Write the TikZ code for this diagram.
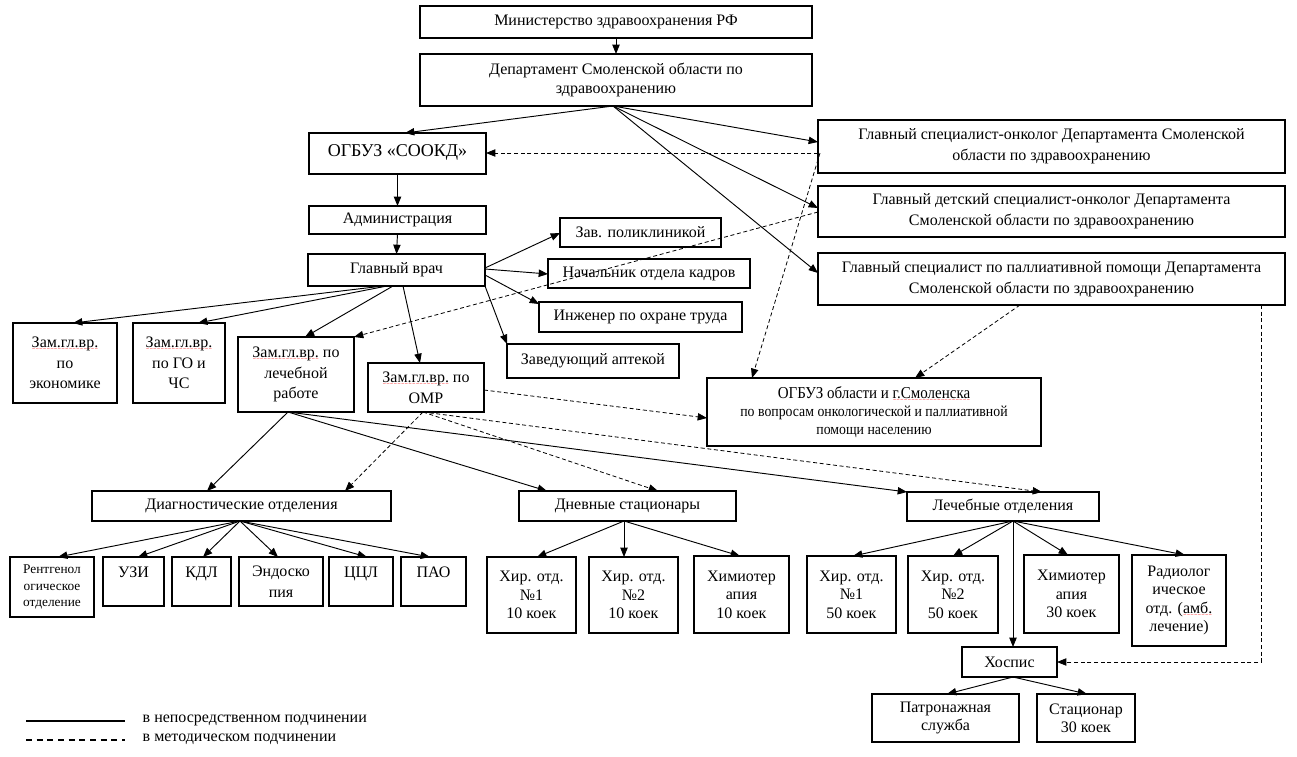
\documentclass[tikz,border=0pt]{standalone}
\usepackage{fontspec}
\setmainfont{Liberation Serif}
\newfontfamily\narrowfont[FakeStretch=0.9]{Liberation Serif}
\newfontfamily\wavefont{DejaVu Sans}
\usetikzlibrary{arrows.meta,calc}
\newcommand\sqw[1]{\leavevmode\setbox0\hbox{#1}\rlap{\raisebox{-2.2pt}[0pt][0pt]{\color{red}\wavefont\fontsize{3.2}{3.5}\selectfont\xleaders\hbox{∼}\hskip\wd0}}\box0\relax}
\newcommand\mybox[7][]{\node[box,minimum width={(#5-#3)*0.75pt},minimum height={(#6-#4)*0.75pt},#1] (#2) at ({(#3+#5)/2},{(#4+#6)/2}) {#7};}
\tikzset{
  box/.style={draw, line width=0.8pt, inner sep=1pt, outer sep=0pt, align=center, font=\fontsize{12}{15.5}\selectfont},
  toptxt/.style={text height=8.5pt, text depth=15pt},
  arr/.style={line width=0.7pt, -{Triangle[length=7pt,width=5.5pt]}},
  darr/.style={line width=0.6pt, dash pattern=on 3pt off 2pt, -{Triangle[length=7pt,width=5.5pt]}},
  legtxt/.style={anchor=west, font=\fontsize{12}{14}\selectfont},
}
\begin{document}
\begin{tikzpicture}[x=0.75pt,y=-0.75pt]
\fill[white] (0,0) rectangle (1297,757);
\useasboundingbox (0,0) rectangle (1297,757);

% top
\mybox{min}{420}{6}{812}{38}{Министерство здравоохранения РФ}
\mybox[font=\fontsize{12}{14.5}\selectfont]{dep}{420}{54}{812}{106}{Департамент Смоленской области по\\здравоохранению}
\mybox[font=\fontsize{13.5}{16}\selectfont,text depth=5pt]{sookd}{309}{133}{486}{174}{ОГБУЗ «СООКД»}
\mybox{adm}{309}{206}{486}{234}{Администрация}
\mybox{gv}{308}{254}{485}{286}{Главный врач}

% specialists
\mybox[font=\fontsize{12}{16}\selectfont]{sp1}{818}{120}{1285}{173}{Главный специалист-онколог Департамента Смоленской\\области по здравоохранению}
\mybox[font=\fontsize{12}{16}\selectfont]{sp2}{818}{186}{1285}{237}{Главный детский специалист-онколог Департамента\\Смоленской области по здравоохранению}
\mybox[font=\fontsize{12}{16}\selectfont]{sp3}{818}{253}{1285}{305}{Главный специалист по паллиативной помощи Департамента\\Смоленской области по здравоохранению}

% services
\mybox{poly}{560}{218}{721}{247}{Зав. поликлиникой}
\mybox{kadr}{548}{259}{750}{288}{Начальник отдела кадров}
\mybox{ing}{539}{302}{742}{332}{Инженер по охране труда}
\mybox{apt}{507}{344}{679}{378}{Заведующий аптекой}

% deputies
\mybox{z1}{13}{323}{117}{403}{\sqw{Зам.гл.вр.}\\по\\экономике}
\mybox{z2}{133}{323}{225}{403}{\sqw{Зам.гл.вр.}\\по ГО и\\ЧС}
\mybox{z3}{238}{337}{354}{412}{\sqw{Зам.гл.вр.}\ по\\лечебной\\работе}
\mybox{z4}{368}{363}{484}{412}{\sqw{Зам.гл.вр.}\ по\\ОМР}
\mybox[font=\narrowfont\fontsize{11.5}{13.5}\selectfont]{ogbuz}{707}{378}{1041}{446}{{\fontsize{12.5}{14}\selectfont ОГБУЗ области и \sqw{г.Смоленска}}\\по вопросам онкологической и паллиативной\\помощи населению}

% departments
\mybox{diag}{92}{491}{391}{521}{Диагностические отделения}
\mybox{dnev}{519}{491}{736}{521}{Дневные стационары}
\mybox{lech}{907}{492}{1099}{521}{Лечебные отделения}

\mybox[font=\fontsize{10}{12.4}\selectfont]{r1}{10}{557}{94}{617}{Рентгенол\\огическое\\отделение}
\mybox[toptxt]{uzi}{103}{557}{164}{606}{УЗИ}
\mybox[toptxt]{kdl}{172}{557}{231}{606}{КДЛ}
\mybox{endo}{239}{557}{323}{606}{Эндоско\\пия}
\mybox[toptxt]{ccl}{329}{557}{393}{606}{ЦЦЛ}
\mybox[toptxt]{pao}{401}{557}{466}{606}{ПАО}

\mybox[font=\fontsize{12}{14}\selectfont]{d1}{487}{557}{576}{633}{Хир. отд.\\№1\\10 коек}
\mybox[font=\fontsize{12}{14}\selectfont]{d2}{589}{557}{678}{633}{Хир. отд.\\№2\\10 коек}
\mybox[font=\fontsize{12}{14}\selectfont]{d3}{694}{556}{789}{633}{Химиотер\\апия\\10 коек}

\mybox[font=\fontsize{12}{14}\selectfont]{l1}{807}{556}{896}{633}{Хир. отд.\\№1\\50 коек}
\mybox[font=\fontsize{12}{14}\selectfont]{l2}{908}{556}{998}{633}{Хир. отд.\\№2\\50 коек}
\mybox[font=\fontsize{12}{14}\selectfont]{l3}{1024}{555}{1119}{633}{Химиотер\\апия\\30 коек}
\mybox[font=\fontsize{12}{13.7}\selectfont]{l4}{1132}{555}{1226}{646}{Радиолог\\ическое\\отд. (\sqw{амб.}\\лечение)}

\mybox{hos}{962}{647}{1057}{677}{Хоспис}
\mybox[font=\fontsize{12}{13.5}\selectfont]{pat}{872}{694}{1019}{742}{Патронажная\\служба}
\mybox[font=\fontsize{12}{13.5}\selectfont]{stac}{1037}{694}{1135}{742}{Стационар\\30 коек}

% connectors: solid
\draw[arr] (min.south) -- (dep.north);
\draw[arr] ($(dep.north west)+(193,52)$) -- ($(sookd.north west)+(96,0)$);
\draw[arr] ($(dep.north west)+(193,52)$) -- ($(sp1.north west)+(0,22)$);
\draw[arr] ($(dep.north west)+(193,52)$) -- ($(sp2.north west)+(0,22)$);
\draw[arr] ($(dep.north west)+(193,52)$) -- ($(sp3.north west)+(0,20)$);
\draw[arr] (sookd.south) -- (adm.north);
\draw[arr] (adm.south) -- (gv.north);
\draw[arr] ($(gv.north west)+(177,14)$) -- ($(poly.north west)+(0,15)$);
\draw[arr] ($(gv.north west)+(177,15)$) -- ($(kadr.north west)+(0,15)$);
\draw[arr] ($(gv.north west)+(177,21)$) -- ($(ing.north west)+(0,2)$);
\draw[arr] (gv.south east) -- (apt.north west);
\draw[arr] ($(gv.north west)+(75,32)$) -- ($(z1.north west)+(60,0)$);
\draw[arr] ($(gv.north west)+(79,32)$) -- ($(z2.north west)+(65,0)$);
\draw[arr] ($(gv.north west)+(85,32)$) -- ($(z3.north west)+(67,0)$);
\draw[arr] ($(gv.north west)+(95,32)$) -- ($(z4.north west)+(52,0)$);
\draw[arr] ($(z3.north west)+(50,75)$) -- ($(diag.north west)+(115,0)$);
\draw[arr] ($(z3.north west)+(50,75)$) -- ($(dnev.north west)+(28,0)$);
\draw[arr] ($(z3.north west)+(50,75)$) -- (lech.north west);
\foreach \n/\d in {r1/48,uzi/35,kdl/31,endo/39,ccl/38,pao/29}
  \draw[arr] ($(diag.north west)+(148,30)$) -- ($(\n.north west)+(\d,0)$);
\foreach \n/\d in {d1/50,d2/35,d3/46}
  \draw[arr] ($(dnev.north west)+(105,30)$) -- ($(\n.north west)+(\d,0)$);
\foreach \n/\d in {l1/46,l2/45,l3/44,l4/53,hos/51}
  \draw[arr] ($(lech.north west)+(106,29)$) -- ($(\n.north west)+(\d,0)$);
\draw[arr] ($(hos.north west)+(51,30)$) -- ($(pat.north west)+(75,0)$);
\draw[arr] ($(hos.north west)+(51,30)$) -- ($(stac.north west)+(50,0)$);

% connectors: dashed
\draw[darr] ($(sp1.north west)+(0,33)$) -- ($(sookd.north west)+(177,20)$);
\draw[darr] ($(sp1.north west)+(2,33)$) -- ($(ogbuz.north west)+(45,0)$);
\draw[darr] ($(sp2.north west)+(0,26)$) -- (z3.north east);
\draw[darr] ($(sp3.north west)+(202,52)$) -- ($(ogbuz.north west)+(208,0)$);
\draw[darr] ($(sp3.north west)+(443,52)$) |- (hos.east);
\draw[darr] ($(z4.north west)+(116,27)$) -- ($(ogbuz.north west)+(0,40)$);
\draw[darr] ($(z4.north west)+(55,49)$) -- ($(diag.north west)+(253,0)$);
\draw[darr] ($(z4.north west)+(55,49)$) -- ($(dnev.north west)+(139,0)$);
\draw[darr] ($(z4.north west)+(55,49)$) -- ($(lech.north west)+(135,0)$);

% legend
\coordinate (la1) at (26,721);
\coordinate (la2) at (125,721);
\coordinate (lb1) at (26,740);
\coordinate (lb2) at (125,740);
\draw[line width=1.5pt] (la1) -- (la2);
\draw[line width=1.5pt, dash pattern=on 4.5pt off 3.5pt] (lb1) -- (lb2);
\node[legtxt] (lt1) at (138,720) {в непосредственном подчинении};
\node[legtxt] (lt2) at (138,739) {в методическом подчинении};
\end{tikzpicture}
\end{document}
